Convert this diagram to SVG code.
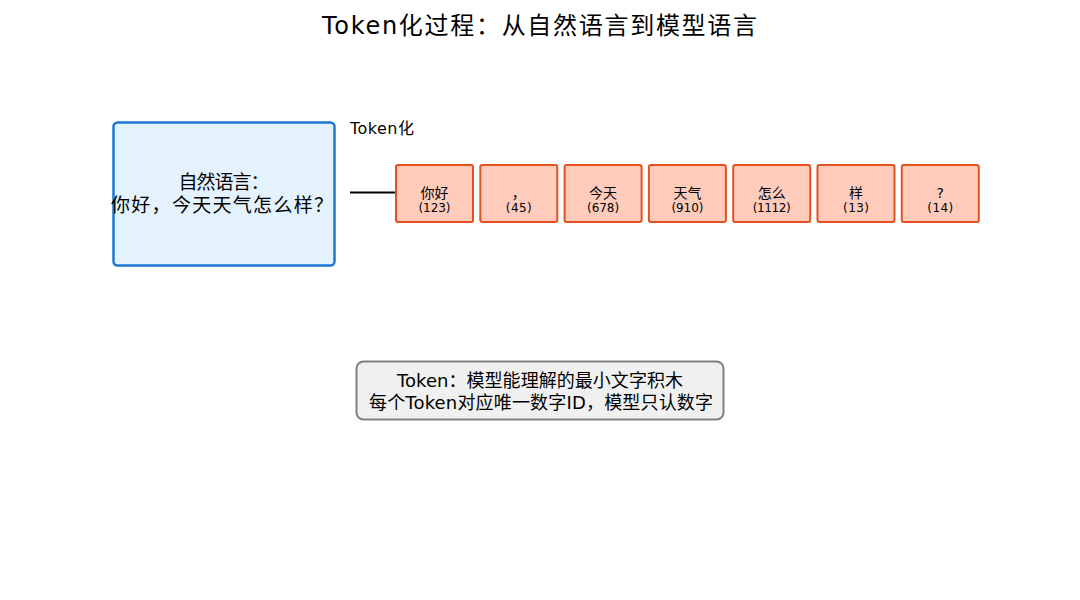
<svg xmlns="http://www.w3.org/2000/svg" width="1080" height="600" viewBox="0 0 1080 600">
<style>
text{font-family:"DejaVu Sans","Noto Sans CJK SC",sans-serif;fill:#000;text-anchor:middle}
.tok rect{fill:#ffccbc;stroke:#e4511e;stroke-width:2}
.tok .t{font-size:14px}
.tok .n{font-size:12px}
</style>
<rect width="1080" height="600" fill="#fff"/>
<text x="539.5" y="34" style="font-size:24px" textLength="435">Token化过程：从自然语言到模型语言</text>
<g id="natural">
<rect x="113.5" y="122.5" width="221" height="143" rx="4" fill="#e3f2fd" stroke="#1e78d2" stroke-width="2.5"/>
<text x="224" y="189" style="font-size:19px" textLength="91">自然语言：</text>
<text x="222" y="212" style="font-size:19px" textLength="222">你好，今天天气怎么样？</text>
</g>
<g id="connectors">
<line x1="350" y1="192.5" x2="396" y2="192.5" stroke="#000" stroke-width="2"/>
<text x="350" y="134" style="font-size:16px;text-anchor:start" textLength="64">Token化</text>
</g>
<g id="tok1" class="tok"><rect x="396" y="165" width="77" height="57" rx="2"/><text class="t" x="434.5" y="198" textLength="28">你好</text><text class="n" x="434.5" y="212" textLength="32">(123)</text></g>
<g id="tok2" class="tok"><rect x="480.3" y="165" width="77" height="57" rx="2"/><text class="t" x="518.8" y="198">，</text><text class="n" x="518.8" y="212" textLength="26">(45)</text></g>
<g id="tok3" class="tok"><rect x="564.6" y="165" width="77" height="57" rx="2"/><text class="t" x="603.1" y="198" textLength="28">今天</text><text class="n" x="603.1" y="212" textLength="32">(678)</text></g>
<g id="tok4" class="tok"><rect x="648.9" y="165" width="77" height="57" rx="2"/><text class="t" x="687.4" y="198" textLength="28">天气</text><text class="n" x="687.4" y="212" textLength="32">(910)</text></g>
<g id="tok5" class="tok"><rect x="733.2" y="165" width="77" height="57" rx="2"/><text class="t" x="771.7" y="198" textLength="28">怎么</text><text class="n" x="771.7" y="212" textLength="38">(1112)</text></g>
<g id="tok6" class="tok"><rect x="817.5" y="165" width="77" height="57" rx="2"/><text class="t" x="856" y="198">样</text><text class="n" x="856" y="212" textLength="26">(13)</text></g>
<g id="tok7" class="tok"><rect x="901.8" y="165" width="77" height="57" rx="2"/><text class="t" x="940.3" y="198">?</text><text class="n" x="940.3" y="212" textLength="26">(14)</text></g>
<g id="note">
<rect x="356.5" y="361.5" width="367" height="58" rx="7" fill="#f0f0f0" stroke="#808080" stroke-width="2"/>
<text x="540" y="387" style="font-size:18px" textLength="286">Token：模型能理解的最小文字积木</text>
<text x="541" y="409" style="font-size:18px" textLength="344">每个Token对应唯一数字ID，模型只认数字</text>
</g>
</svg>
